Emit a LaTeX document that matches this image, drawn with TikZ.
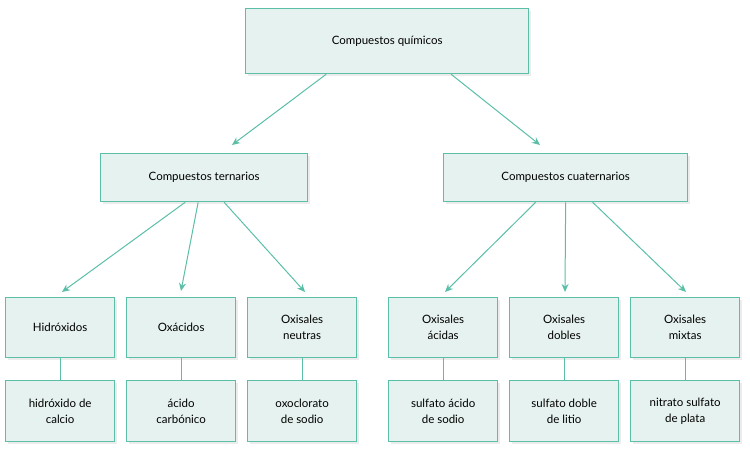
\documentclass[tikz,border=0pt]{standalone}
\usepackage{fontspec}
\setmainfont{Lato}
\usetikzlibrary{arrows.meta,shadows}
\definecolor{tl}{HTML}{5BBFA8}
\definecolor{mf}{HTML}{E6F2EF}
\tikzset{bx/.style={draw=tl,fill=mf,line width=1.3pt,align=center,anchor=north west,inner sep=0pt,
  font=\fontsize{11.5}{16}\selectfont,drop shadow={shadow xshift=2pt,shadow yshift=-2pt,opacity=0.15}},
 ar/.style={draw=tl,line width=1pt,-{Stealth[length=8pt,width=7pt]}},
 ln/.style={draw=tl,line width=1pt}}
\begin{document}
\begin{tikzpicture}[x=1pt,y=-1pt]
\useasboundingbox (0,0) rectangle (750,457);
\newcommand{\bxn}[6]{\node[bx,minimum width=#4pt,minimum height=#5pt] (#1) at (#2,#3) {#6};}
\bxn{top}{245}{8}{283}{65}{Compuestos químicos}
\bxn{ter}{100}{153}{207}{48}{Compuestos ternarios}
\bxn{cua}{443}{153}{244}{48}{Compuestos cuaternarios}
\bxn{h}{5}{297}{109}{60}{Hidróxidos}
\bxn{o}{126}{297}{109}{60}{Oxácidos}
\bxn{n}{247}{297}{109}{60}{Oxisales\\neutras}
\bxn{a}{388}{297}{109}{60}{Oxisales\\ácidas}
\bxn{d}{509}{297}{109}{60}{Oxisales\\dobles}
\bxn{m}{630}{297}{109}{60}{Oxisales\\mixtas}
\bxn{he}{5}{380}{109}{61}{hidróxido de\\calcio}
\bxn{oe}{126}{380}{109}{61}{ácido\\carbónico}
\bxn{ne}{247}{380}{109}{61}{oxoclorato\\de sodio}
\bxn{ae}{388}{380}{109}{61}{sulfato ácido\\de sodio}
\bxn{de}{509}{380}{109}{61}{sulfato doble\\de litio}
\bxn{me}{630}{380}{109}{61}{nitrato sulfato\\de plata}
\draw[ar] ([xshift=-61pt]top.south) -- (232,145);
\draw[ar] ([xshift=64pt]top.south) -- (540,145);
\draw[ar] ([xshift=-19pt]ter.south) -- (62,292);
\draw[ar] ([xshift=-6pt]ter.south) -- (181,291);
\draw[ar] ([xshift=20pt]ter.south) -- (305,292);
\draw[ar] ([xshift=-30pt]cua.south) -- (445,292);
\draw[ar] (cua.south) -- (565,292);
\draw[ar] ([xshift=27pt]cua.south) -- (686,292);
\foreach \u/\v in {h/he,o/oe,n/ne,a/ae,d/de,m/me} \draw[ln] (\u.south) -- (\v.north);
\end{tikzpicture}
\end{document}
